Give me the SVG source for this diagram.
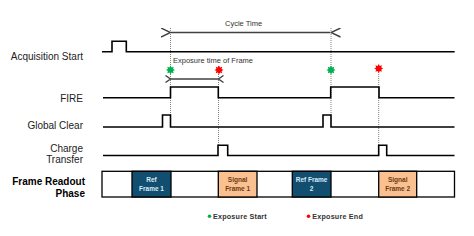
<svg xmlns="http://www.w3.org/2000/svg" width="474" height="236" viewBox="0 0 474 236">
<style>
.sig{fill:none;stroke:#000;stroke-width:1.6;stroke-linejoin:miter}
.dot{fill:none;stroke:#808080;stroke-width:1;stroke-dasharray:1,1}
.lbl{font-family:"Liberation Sans",Arial,sans-serif;font-size:10px;fill:#222;text-anchor:end}
.lblb{font-family:"Liberation Sans",Arial,sans-serif;font-size:10px;font-weight:bold;fill:#000;text-anchor:end}
.small{font-family:"Liberation Sans",Arial,sans-serif;font-size:7.5px;fill:#333}
.cell{stroke:#000;stroke-width:1.3}
.blue{fill:#124e6f}
.orange{fill:#fac090}
.ct{font-family:"Liberation Sans",Arial,sans-serif;font-size:6.5px;font-weight:bold;text-anchor:middle}
.ctb{fill:#d6ecf8}
.cto{fill:#6b3a12}
.leg{font-family:"Liberation Sans",Arial,sans-serif;font-size:7.2px;font-weight:bold;fill:#333;letter-spacing:0.2px}
.arr{fill:none;stroke:#404040;stroke-width:1.3}
</style>
<defs>
<marker id="chevBig" markerUnits="userSpaceOnUse" viewBox="0 0 10 10" refX="0" refY="5" markerWidth="10" markerHeight="10" orient="auto-start-reverse">
<path d="M10,0.5 L0.5,5 L10,9.5" fill="none" stroke="#404040" stroke-width="1.4"/>
</marker>
<marker id="chevSmall" markerUnits="userSpaceOnUse" viewBox="0 0 6 8" refX="0" refY="4" markerWidth="6" markerHeight="8" orient="auto-start-reverse">
<path d="M5.5,0.5 L0.5,4 L5.5,7.5" fill="none" stroke="#404040" stroke-width="1.3"/>
</marker>
<path id="star" d="M0,-4.5 L1.1,-2.6 L3.2,-3.2 L2.6,-1.1 L4.5,0 L2.6,1.1 L3.2,3.2 L1.1,2.6 L0,4.5 L-1.1,2.6 L-3.2,3.2 L-2.6,1.1 L-4.5,0 L-2.6,-1.1 L-3.2,-3.2 L-1.1,-2.6 Z"/>
</defs>

<g id="labels">
<text class="lbl" x="83" y="59.5">Acquisition Start</text>
<text class="lbl" x="83" y="101.5">FIRE</text>
<text class="lbl" x="83" y="128.5">Global Clear</text>
<text class="lbl" x="83" y="151.5">Charge</text>
<text class="lbl" x="83" y="162.5">Transfer</text>
<text class="lblb" x="85" y="185">Frame Readout</text>
<text class="lblb" x="85" y="196.5">Phase</text>
</g>

<g id="guides">
<line class="dot" x1="170.5" y1="28" x2="170.5" y2="115"/>
<line class="dot" x1="218.5" y1="66" x2="218.5" y2="145"/>
<line class="dot" x1="331" y1="28" x2="331" y2="115"/>
<line class="dot" x1="378.7" y1="66" x2="378.7" y2="145"/>
</g>

<g id="acquisition-start"><path class="sig" d="M102,51.7 H112 V41.3 H126.3 V51.7 H454.7"/></g>
<g id="fire"><path class="sig" d="M103,97.7 H170.5 V87 H218.3 V97.7 H330.7 V87 H379 V97.7 H454.5"/></g>
<g id="global-clear"><path class="sig" d="M103,127 H162.5 V115 H170.5 V127 H323 V115 H331 V127 H454.5"/></g>
<g id="charge-transfer"><path class="sig" d="M103,155.5 H218 V145.3 H227.7 V155.5 H378.7 V145.3 H386.7 V155.5 H454.5"/></g>

<g id="connectors">
<line class="arr" x1="171" y1="32.5" x2="330.5" y2="32.5" marker-start="url(#chevBig)" marker-end="url(#chevBig)"/>
<line class="arr" x1="171" y1="79" x2="218" y2="79" marker-start="url(#chevSmall)" marker-end="url(#chevSmall)"/>
</g>
<text class="small" x="225" y="25.5">Cycle Time</text>
<text class="small" x="173" y="63">Exposure time of Frame</text>

<g id="markers">
<use href="#star" x="170.5" y="70" fill="#00b050"/>
<use href="#star" x="219" y="70" fill="#ff0000"/>
<use href="#star" x="331" y="70" fill="#00b050"/>
<use href="#star" x="378.7" y="68.5" fill="#ff0000"/>
</g>

<g id="frame-readout">
<rect class="cell" x="102" y="171.3" width="352.5" height="25.7" fill="#fff"/>
<rect class="cell blue" x="132" y="171.3" width="39" height="25.7"/>
<rect class="cell orange" x="218.3" y="171.3" width="38.7" height="25.7"/>
<rect class="cell blue" x="292.3" y="171.3" width="38.7" height="25.7"/>
<rect class="cell orange" x="378.7" y="171.3" width="38" height="25.7"/>
<text class="ct ctb" x="151.5" y="181.7">Ref</text>
<text class="ct ctb" x="151.5" y="191">Frame 1</text>
<text class="ct cto" x="237.6" y="181.7">Signal</text>
<text class="ct cto" x="237.6" y="191">Frame 1</text>
<text class="ct ctb" x="311.6" y="181.7">Ref Frame</text>
<text class="ct ctb" x="311.6" y="191">2</text>
<text class="ct cto" x="397.7" y="181.7">Signal</text>
<text class="ct cto" x="397.7" y="191">Frame 2</text>
</g>

<g id="legend">
<circle cx="209.5" cy="216.3" r="1.8" fill="#00b050"/>
<text class="leg" x="213" y="219">Exposure  Start</text>
<circle cx="308.5" cy="216.3" r="1.8" fill="#ff0000"/>
<text class="leg" x="312.3" y="219">Exposure  End</text>
</g>
</svg>
